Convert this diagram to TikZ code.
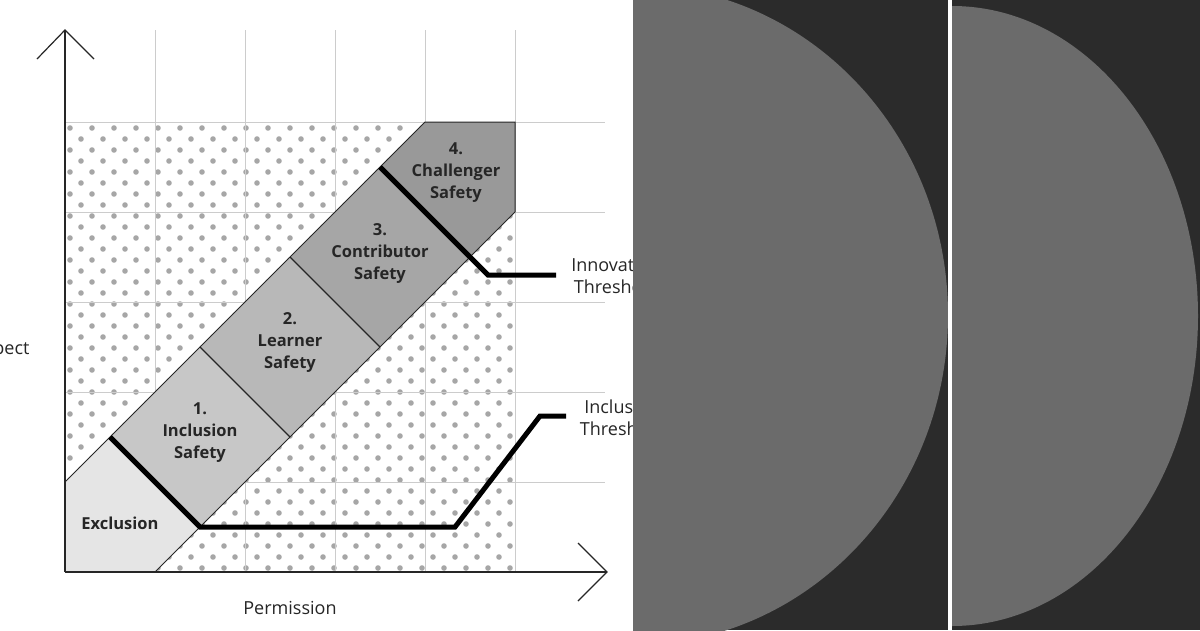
\documentclass[tikz,border=0pt]{standalone}
\usepackage{fontspec}
\setmainfont{Open Sans}
\begin{document}
\begin{tikzpicture}[x=1pt,y=-1pt,
  lbl/.style={align=center,font=\fontsize{16.5}{22}\selectfont\bfseries,text=black!85},
  side/.style={align=center,font=\fontsize{18}{22}\selectfont,text=black!85},
  grid/.style={draw=black!20,line width=1pt},
  thick line/.style={line width=5pt,line join=miter},
  axis/.style={line width=1.2pt,black!85}]
\useasboundingbox (0,0) rectangle (1200,630);
\clip (0,0) rectangle (1200,630);
\fill[white] (0,0) rectangle (1200,630);
% dots
\begin{scope}
\clip (65,122) rectangle (515,572);
\foreach \r in {0,...,41}{
  \pgfmathsetmacro{\yy}{128+\r*11.0}
  \pgfmathsetmacro{\off}{mod(\r,2)*11}
  \foreach \c in {0,...,21}{
    \fill[black!35] ({70+\off+\c*22},\yy) circle (2.8);
  }
}
\end{scope}
% grid
\foreach \x in {155,245,335,425,515}{\draw[grid] (\x,30) -- (\x,572);}
\foreach \y in {122,212,302,392,482}{\draw[grid] (65,\y) -- (605,\y);}
% band regions
\fill[black!10] (65,482) -- (110,437) -- (200,527) -- (155,572) -- (65,572) -- cycle;
\fill[black!22] (110,437) -- (200,347) -- (290,437) -- (200,527) -- cycle;
\fill[black!28] (200,347) -- (290,257) -- (380,347) -- (290,437) -- cycle;
\fill[black!35] (290,257) -- (380,167) -- (470,257) -- (380,347) -- cycle;
\fill[black!40] (380,167) -- (425,122) -- (515,122) -- (515,212) -- (470,257) -- cycle;
\draw[line width=1pt,black!85] (65,482) -- (425,122) -- (515,122) -- (515,212) -- (155,572);
\draw[line width=1pt,black!85] (65,482) -- (65,572);
\draw[line width=1.2pt,black!85] (200,347) -- (290,437);
\draw[line width=1.2pt,black!85] (290,257) -- (380,347);
% labels
\node[lbl] (exc) at (120,523) {Exclusion};
\node[lbl] (s1) at (200,433) {1.\\Inclusion\\Safety};
\node[lbl] (s2) at (290,343) {2.\\Learner\\Safety};
\node[lbl] (s3) at (380,254) {3.\\Contributor\\Safety};
\node[lbl] (s4) at (456,173) {4.\\Challenger\\Safety};
% thresholds
\coordinate (i1) at (110,437); \coordinate (i2) at (200,527); \coordinate (i3) at (455,527);
\coordinate (i4) at (540,416); \coordinate (i5) at (566,416);
\draw[thick line] (i1) -- (i2) -- (i3) -- (i4) -- (i5);
\coordinate (n1) at (380,167); \coordinate (n2) at (488,275); \coordinate (n3) at (556,275);
\draw[thick line] (n1) -- (n2) -- (n3);
\node[side] (inn) at (616,276) {Innovation\\Threshold};
\node[side] (inc) at (622,418) {Inclusion\\Threshold};
% axes
\coordinate (o) at (65,572); \coordinate (yt) at (65,30); \coordinate (xt) at (607,572);
\draw[axis] (o) -- (yt); \draw[axis] (o) -- (xt);
\draw[axis] (37,59) -- (yt) -- (94,59);
\draw[axis] (578,543) -- (xt) -- (578,601);
\node[side,anchor=east] (ry) at (33,350) {Respect};
\node[side] (px) at (290,608) {Permission};
% right panels
\fill[black!83] (633,0) rectangle (1200,630);
\begin{scope}
\clip (633,0) rectangle (948,630);
\fill[black!58] (633,315) ellipse (315 and 330);
\end{scope}
\fill[white] (948,0) rectangle (952,630);
\begin{scope}
\clip (952,0) rectangle (1200,630);
\fill[black!58] (952,316) ellipse (246 and 310);
\end{scope}
\end{tikzpicture}
\end{document}
